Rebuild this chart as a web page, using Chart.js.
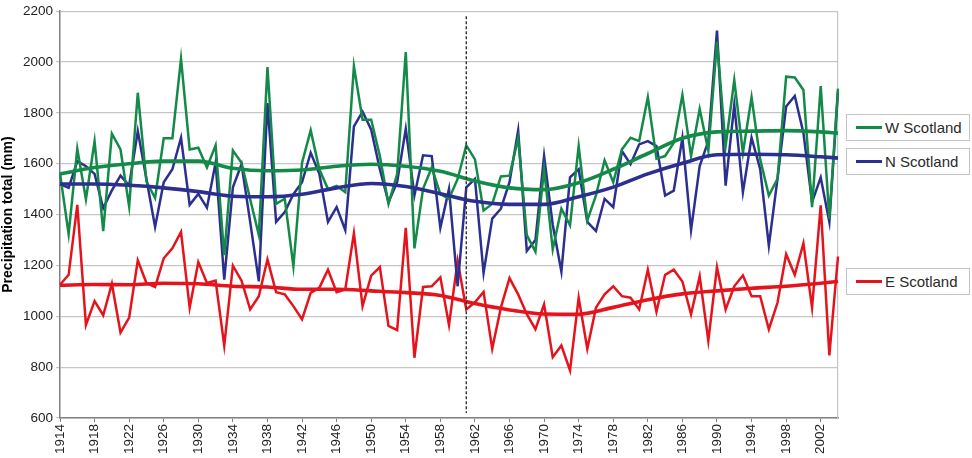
<!DOCTYPE html>
<html>
<head>
<meta charset="utf-8">
<script src="https://cdn.jsdelivr.net/npm/chart.js@4.4.1/dist/chart.umd.min.js"></script>
<style>
  html, body { margin: 0; padding: 0; background: #fff; }
  #wrap { position: relative; width: 972px; height: 458px; }
  .key {
    position: absolute; left: 846px; width: 124px; height: 27px; box-sizing: border-box;
    border: 1px solid #c4c4c4; background: #fff; display: flex; align-items: center;
    font: 15px "Liberation Sans", Arial, sans-serif; color: #2a2a2a;
  }
  .key i { display: inline-block; width: 26px; height: 3px; margin: 0 3px 0 9px; }
  #key-w { top: 114px; }
  #key-n { top: 148px; }
  #key-e { top: 268px; }
</style>
</head>
<body>
<div id="wrap">
  <canvas id="chart" width="972" height="458"></canvas>
</div>
<script>
// ── Data (annual precipitation totals, mm) ──────────────────────────────────
const YEARS = Array.from({ length: 91 }, (_, i) => String(1914 + i));

const W_SCOTLAND = [
  1563, 1323, 1659, 1460, 1688, 1335, 1718, 1656, 1432, 1879,
  1530, 1465, 1700, 1700, 2012, 1656, 1663, 1585, 1672, 1240,
  1652, 1604, 1460, 1319, 1980, 1442, 1462, 1196, 1604, 1731,
  1578, 1500, 1513, 1488, 1983, 1773, 1773, 1630, 1442, 1559,
  2039, 1267, 1501, 1585, 1480, 1462, 1540, 1672, 1617, 1416,
  1442, 1550, 1553, 1700, 1319, 1254, 1578, 1263, 1423, 1358,
  1669, 1377, 1475, 1613, 1527, 1656, 1702, 1689, 1861, 1620,
  1630, 1682, 1870, 1630, 1815, 1650, 2080, 1669, 1929, 1643,
  1861, 1617, 1475, 1540, 1942, 1939, 1890, 1429, 1905, 1384,
  1895
];
const N_SCOTLAND = [
  1520, 1505, 1610, 1590, 1560, 1425, 1495, 1553, 1514, 1728,
  1540, 1351, 1527, 1578, 1702, 1438, 1481, 1427, 1604, 1144,
  1507, 1598, 1371, 1137, 1838, 1371, 1410, 1480, 1527, 1643,
  1560, 1371, 1429, 1339, 1747, 1805, 1734, 1578, 1449, 1527,
  1737, 1475, 1633, 1630, 1348, 1501, 1118, 1507, 1540, 1170,
  1384, 1423, 1527, 1730, 1257, 1300, 1630, 1360, 1176, 1546,
  1578, 1371, 1335, 1462, 1429, 1650, 1598, 1676, 1689, 1669,
  1475, 1494, 1702, 1339, 1591, 1689, 2123, 1514, 1831, 1488,
  1702, 1578, 1278, 1540, 1825, 1866, 1721, 1449, 1546, 1371,
  1885
];
const E_SCOTLAND = [
  1124, 1163, 1438,  966, 1060, 1004, 1128,  936,  995, 1220,
  1131, 1115, 1228, 1267, 1332, 1034, 1213, 1131, 1140,  885,
  1199, 1140, 1027, 1079, 1224, 1095, 1086, 1040,  988, 1092,
  1112, 1183, 1095, 1105, 1326, 1040, 1160, 1193,  962,  946,
  1348,  837, 1115, 1118, 1153,  966, 1218, 1027, 1055, 1096,
   872, 1034, 1150, 1086, 1008,  949, 1047,  839,  885,  787,
  1073,  872, 1034, 1086, 1118, 1079, 1073, 1027, 1183, 1018,
  1163, 1183, 1137, 1008, 1157,  904, 1193, 1027, 1118, 1161,
  1079, 1079,  949, 1053, 1244, 1163, 1287, 1034, 1436,  846,
  1235
];

// smoothed trend, read every 4 years
const TREND_YEARS = ["1914", "1918", "1922", "1926", "1930", "1934", "1938", "1942",
  "1946", "1950", "1954", "1958", "1962", "1966", "1970", "1974", "1978", "1982",
  "1986", "1990", "1994", "1998", "2002", "2004"];
const W_TREND = [1560, 1585, 1600, 1610, 1610, 1582, 1572, 1575, 1590, 1598, 1590, 1570,
  1532, 1505, 1498, 1525, 1578, 1640, 1700, 1725, 1728, 1730, 1725, 1720];
const N_TREND = [1520, 1520, 1515, 1505, 1490, 1472, 1470, 1480, 1505, 1522, 1510, 1482,
  1452, 1440, 1440, 1470, 1508, 1560, 1602, 1635, 1637, 1635, 1627, 1622];
const E_TREND = [1122, 1125, 1124, 1130, 1128, 1118, 1115, 1106, 1106, 1100, 1093, 1082,
  1050, 1025, 1009, 1008, 1035, 1065, 1088, 1100, 1110, 1118, 1130, 1137];

const SPLIT_YEAR = "1961";
const SPLIT_SPAN = [2180, 620];

const SERIES = [
  { name: "W Scotland", key: "key-w", color: "#148a48", raw: W_SCOTLAND, trend: W_TREND },
  { name: "N Scotland", key: "key-n", color: "#2b2f8f", raw: N_SCOTLAND, trend: N_TREND },
  { name: "E Scotland", key: "key-e", color: "#e5141c", raw: E_SCOTLAND, trend: E_TREND },
];

// ── Datasets ────────────────────────────────────────────────────────────────
const pairs = (xs, ys) => xs.map((x, i) => ({ x, y: ys[i] }));

const datasets = [{
  data: SPLIT_SPAN.map(y => ({ x: SPLIT_YEAR, y })),
  borderColor: "#333",
  borderWidth: 1.4,
  borderDash: [3, 2],
  pointRadius: 0,
}];
SERIES.forEach(s => datasets.push({
  data: pairs(TREND_YEARS, s.trend),
  borderColor: s.color,
  borderWidth: 3.6,
  pointRadius: 0,
  cubicInterpolationMode: "monotone",
}));
SERIES.forEach(s => datasets.push({
  data: s.raw,
  borderColor: s.color,
  borderWidth: 2.5,
  pointRadius: 0,
  tension: 0,
}));

// ── Chart ───────────────────────────────────────────────────────────────────
const FONT = "'Liberation Sans', Arial, sans-serif";

new Chart(document.getElementById("chart"), {
  type: "line",
  data: { labels: YEARS, datasets },
  options: {
    responsive: false,
    animation: false,
    layout: { padding: { top: 7, right: 134, bottom: 0, left: 0 } },
    plugins: { legend: { display: false }, tooltip: { enabled: false } },
    scales: {
      x: {
        offset: false,
        afterFit: sc => { sc.height = 40; },
        grid: {
          drawOnChartArea: false,
          tickLength: 4,
          color: ctx => ctx.index % 4 === 0 ? "#808080" : "rgba(0,0,0,0)",
        },
        border: { color: "#808080", width: 1.5 },
        ticks: {
          autoSkip: false,
          minRotation: 90,
          maxRotation: 90,
          padding: 2,
          color: "#222",
          font: { family: FONT, size: 13.5 },
          callback: function (v, i) { return i % 4 === 0 ? this.getLabelForValue(v) : ""; },
        },
      },
      y: {
        min: 600,
        max: 2200,
        afterFit: sc => { sc.width = 60; },
        grid: { color: "#c6c6c6", tickLength: 4, lineWidth: 1.2 },
        border: { color: "#808080", width: 1.5 },
        ticks: {
          stepSize: 200,
          padding: 3,
          color: "#222",
          font: { family: FONT, size: 13.5 },
          callback: v => String(v),
        },
        title: {
          display: true,
          text: "Precipitation total (mm)",
          color: "#000",
          padding: 0,
          font: { family: FONT, size: 14, weight: "bold" },
        },
      },
      yRight: {
        position: "right",
        min: 600,
        max: 2200,
        afterFit: sc => { sc.width = 0; },
        grid: { drawOnChartArea: false, drawTicks: false },
        border: { color: "#c6c6c6", width: 1.2 },
        ticks: { display: false },
      },
    },
  },
});

// ── Legend boxes ────────────────────────────────────────────────────────────
SERIES.forEach(s => {
  const box = document.createElement("div");
  box.className = "key";
  box.id = s.key;
  box.innerHTML = `<i style="background:${s.color}"></i><span>${s.name}</span>`;
  document.getElementById("wrap").appendChild(box);
});
</script>
</body>
</html>
